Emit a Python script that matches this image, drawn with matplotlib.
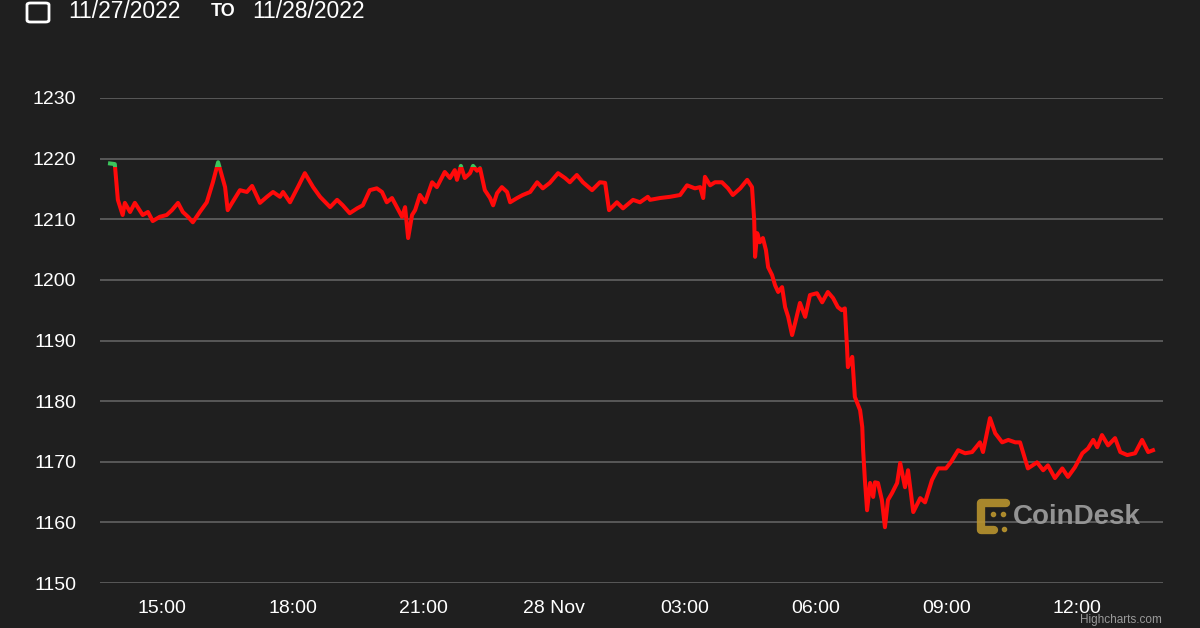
import numpy as np
import pandas as pd
import matplotlib.pyplot as plt
import matplotlib.dates as mdates
from matplotlib.patches import Rectangle, FancyBboxPatch
from matplotlib.lines import Line2D
from matplotlib.ticker import FuncFormatter

# hours since 27 Nov 2022 00:00 (values above 24 fall on 28 Nov)
hours = [
    13.81, 13.92, 13.99, 14.10, 14.15, 14.27, 14.38, 14.56, 14.68, 14.79,
    14.95, 15.11, 15.23, 15.37, 15.48, 15.60, 15.71, 15.87, 16.03, 16.17,
    16.29, 16.45, 16.51, 16.61, 16.79, 16.95, 17.07, 17.25, 17.41, 17.55,
    17.71, 17.78, 17.94, 18.12, 18.28, 18.47, 18.63, 18.86, 19.02, 19.15,
    19.31, 19.48, 19.61, 19.77, 19.93, 20.05, 20.16, 20.28, 20.39, 20.51,
    20.58, 20.65, 20.74, 20.81, 20.92, 21.04, 21.20, 21.31, 21.49, 21.61,
    21.72, 21.77, 21.86, 21.95, 22.07, 22.14, 22.23, 22.30, 22.41, 22.53,
    22.60, 22.69, 22.80, 22.92, 22.99, 23.15, 23.28, 23.45, 23.61, 23.74,
    23.90, 24.09, 24.25, 24.36, 24.52, 24.66, 24.87, 25.05, 25.17, 25.26,
    25.44, 25.58, 25.81, 25.97, 26.15, 26.20, 26.43, 26.66, 26.89, 27.05,
    27.23, 27.35, 27.42, 27.46, 27.58, 27.69, 27.85, 27.99, 28.10, 28.27,
    28.43, 28.54, 28.59, 28.61, 28.66, 28.72, 28.79, 28.86, 28.91, 29.00,
    29.07, 29.14, 29.23, 29.30, 29.37, 29.46, 29.53, 29.64, 29.76, 29.87,
    30.03, 30.15, 30.28, 30.40, 30.51, 30.60, 30.67, 30.72, 30.74, 30.84,
    30.90, 31.02, 31.07, 31.09, 31.13, 31.18, 31.25, 31.32, 31.36, 31.43,
    31.52, 31.59, 31.66, 31.75, 31.87, 31.94, 32.05, 32.12, 32.24, 32.40,
    32.51, 32.67, 32.81, 32.99, 33.10, 33.27, 33.43, 33.59, 33.77, 33.84,
    34.00, 34.12, 34.28, 34.42, 34.58, 34.69, 34.87, 35.08, 35.22, 35.33,
    35.49, 35.66, 35.79, 35.95, 36.12, 36.25, 36.37, 36.46, 36.57, 36.71,
    36.87, 36.99, 37.15, 37.33, 37.49, 37.63, 37.74,
]
price = [
    1219.2, 1219.1, 1213.2, 1210.7, 1212.7, 1211.2, 1212.7, 1210.7, 1211.2, 1209.7,
    1210.4, 1210.7, 1211.5, 1212.7, 1211.2, 1210.4, 1209.5, 1211.2, 1212.8, 1216.1,
    1219.4, 1215.3, 1211.5, 1212.7, 1214.8, 1214.5, 1215.5, 1212.7, 1213.7, 1214.5,
    1213.7, 1214.5, 1212.8, 1215.3, 1217.6, 1215.3, 1213.7, 1212.0, 1213.2, 1212.3,
    1211.0, 1211.8, 1212.3, 1214.8, 1215.1, 1214.5, 1212.8, 1213.5, 1212.0, 1210.4,
    1212.0, 1206.9, 1210.7, 1211.5, 1214.0, 1212.8, 1216.1, 1215.3, 1217.8, 1216.8,
    1218.1, 1216.5, 1218.8, 1216.8, 1217.6, 1218.8, 1218.0, 1218.4, 1214.8, 1213.5,
    1212.3, 1214.3, 1215.3, 1214.5, 1212.8, 1213.5, 1214.0, 1214.5, 1216.1, 1215.1,
    1216.0, 1217.6, 1216.8, 1216.1, 1217.3, 1216.1, 1214.8, 1216.1, 1216.0, 1211.5,
    1212.8, 1211.8, 1213.2, 1212.8, 1213.7, 1213.2, 1213.5, 1213.7, 1214.0, 1215.6,
    1215.1, 1215.3, 1213.5, 1217.0, 1215.6, 1216.1, 1216.1, 1215.1, 1214.0, 1215.1,
    1216.5, 1215.3, 1209.9, 1203.8, 1207.7, 1206.2, 1206.9, 1204.9, 1202.1, 1200.8,
    1199.1, 1198.0, 1198.8, 1195.5, 1193.9, 1190.9, 1192.9, 1196.2, 1193.9, 1197.5,
    1197.8, 1196.3, 1198.0, 1197.0, 1195.5, 1195.0, 1195.3, 1188.9, 1185.6, 1187.3,
    1180.7, 1178.5, 1175.7, 1171.9, 1167.0, 1162.0, 1166.5, 1164.2, 1166.6, 1166.5,
    1163.7, 1159.2, 1163.7, 1164.8, 1166.5, 1169.8, 1165.8, 1168.6, 1161.7, 1164.0,
    1163.3, 1167.0, 1168.9, 1168.9, 1169.9, 1171.9, 1171.4, 1171.6, 1173.2, 1171.6,
    1177.2, 1174.7, 1173.2, 1173.6, 1173.2, 1173.2, 1168.9, 1169.9, 1168.6, 1169.4,
    1167.3, 1168.9, 1167.5, 1169.1, 1171.4, 1172.2, 1173.6, 1172.4, 1174.4, 1172.7,
    1173.9, 1171.6, 1171.1, 1171.4, 1173.6, 1171.6, 1171.9,
]
open_price = 1218.6
y_ticks = [1150, 1160, 1170, 1180, 1190, 1200, 1210, 1220, 1230]
date_from = "11/27/2022"
date_to = "11/28/2022"

BG = "#1f1f1f"
W, H = 1200, 628

plt.rcParams['font.family'] = ['Liberation Sans', 'DejaVu Sans']

times = pd.Timestamp("2022-11-27") + pd.to_timedelta(hours, unit="h")
tnum = mdates.date2num(times.to_pydatetime())

fig = plt.figure(figsize=(12, 6.28), dpi=100, facecolor=BG)
ax = fig.add_axes([100 / W, 1 - 583 / H, 1063 / W, 485 / H])
ax.set_facecolor(BG)

base = mdates.date2num(pd.Timestamp("2022-11-27").to_pydatetime())
ax.set_xlim(base + 13.58 / 24, base + 37.97 / 24)
ax.set_ylim(1150, 1230)

for s in ax.spines.values():
    s.set_visible(False)
ax.set_yticks(y_ticks)
ax.yaxis.grid(True, color="#5c5c5c", lw=1.3)
ax.set_axisbelow(True)
ax.tick_params(axis="both", length=0, colors="white", labelsize=14)
ax.tick_params(axis="y", pad=17)
ax.tick_params(axis="x", pad=12)

ax.xaxis.set_major_locator(mdates.HourLocator(byhour=[0, 3, 6, 9, 12, 15, 18, 21]))


def fmt(x, pos):
    d = mdates.num2date(x)
    if d.hour == 0:
        return d.strftime("%d %b").lstrip("0")
    return d.strftime("%H:%M")


ax.xaxis.set_major_formatter(FuncFormatter(fmt))

# price below the opening value in red, above in green
lo = Rectangle((tnum[0] - 1, 1000), 3, open_price - 1000, transform=ax.transData)
hi = Rectangle((tnum[0] - 1, open_price), 3, 1000, transform=ax.transData)
red, = ax.plot(tnum, price, color="#ff0a0a", lw=2.9, solid_joinstyle="round", zorder=3)
red.set_clip_path(lo)
green, = ax.plot(tnum, price, color="#3cc45c", lw=2.9, solid_joinstyle="round", zorder=3)
green.set_clip_path(hi)

# header
def px(x, y):
    return x / W, 1 - y / H

box = FancyBboxPatch(px(27, 22), 22 / W, 19 / H, boxstyle="round,pad=0,rounding_size=0.003",
                     transform=fig.transFigure, fill=False, ec="white", lw=2)
fig.patches.append(box)
fig.text(*px(68, 12), date_from, color="white", fontsize=16.5, va="center", ha="left")
fig.text(*px(211, 12), "TO", color="white", fontsize=13, fontweight="bold", va="center", ha="left")
fig.text(*px(252, 12), date_to, color="white", fontsize=16.5, va="center", ha="left")

# watermark
gold = "#b8932e"
fig.lines.append(Line2D([1006 / W, 981 / W, 981 / W, 994 / W],
                        [1 - 503 / H, 1 - 503 / H, 1 - 530 / H, 1 - 530 / H],
                        transform=fig.transFigure, color=gold, lw=6,
                        solid_capstyle="round", solid_joinstyle="round", alpha=0.9))
for dx, dy in [(993, 514), (1003, 514), (1004, 529)]:
    fig.lines.append(Line2D([dx / W], [1 - dy / H], transform=fig.transFigure,
                            marker="o", ms=3, color=gold, alpha=0.9))
fig.text(*px(1013, 517), "CoinDesk", color="#9a9a9a", fontsize=20, fontweight="bold",
         va="center", ha="left", alpha=0.95)
fig.text(*px(1162, 620), "Highcharts.com", color="#9a9a9a", fontsize=8.5,
         va="center", ha="right")

fig.savefig("out.png", dpi=100, facecolor=BG)
